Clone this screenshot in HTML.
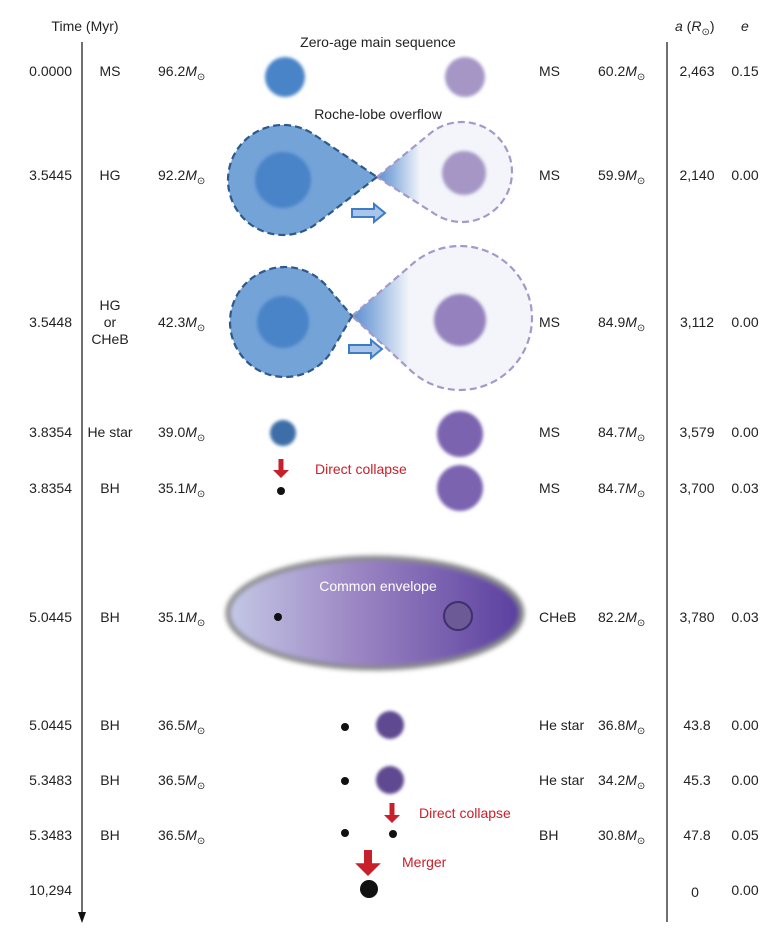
<!DOCTYPE html>
<html><head><meta charset="utf-8"><style>
html,body{margin:0;padding:0;background:#fff;}
svg{display:block;font-family:"Liberation Sans",Arial,sans-serif;}
</style></head><body>
<svg id="c" width="774" height="941" viewBox="0 0 774 941" xmlns="http://www.w3.org/2000/svg">
<defs>
  <filter id="blur2" x="-50%" y="-50%" width="200%" height="200%"><feGaussianBlur stdDeviation="1.6"/></filter>
  <filter id="blur3" x="-20%" y="-50%" width="140%" height="200%"><feGaussianBlur stdDeviation="2.5"/></filter>
  <linearGradient id="streamR" x1="0" x2="1"><stop offset="0" stop-color="#5b8fd0"/><stop offset="0.12" stop-color="#8fb2de"/><stop offset="0.32" stop-color="#f3f5fa"/></linearGradient>
  <linearGradient id="ceGrad" x1="0" x2="1"><stop offset="0" stop-color="#c4c8e6"/><stop offset="0.45" stop-color="#9a84c2"/><stop offset="1" stop-color="#5a3e9e"/></linearGradient>
</defs>
<g id="axes"></g>
<g id="art"></g>
<g id="labels"></g>
</svg>
<script>
const times = ["0.0000","3.5445","3.5448","3.8354","3.8354","5.0445","5.0445","5.3483","5.3483","10,294"];
const rowY = [71,175,322,432,488,617,725,780,835,890];
const leftStage = ["MS","HG","HG|or|CHeB","He star","BH","BH","BH","BH","BH",""];
const leftMass = ["96.2","92.2","42.3","39.0","35.1","35.1","36.5","36.5","36.5",""];
const rightStage = ["MS","MS","MS","MS","MS","CHeB","He star","He star","BH",""];
const rightMass = ["60.2","59.9","84.9","84.7","84.7","82.2","36.8","34.2","30.8",""];
const sep = ["2,463","2,140","3,112","3,579","3,700","3,780","43.8","45.3","47.8","0"];
const ecc = ["0.15","0.00","0.00","0.00","0.03","0.03","0.00","0.00","0.05","0.00"];

const NS="http://www.w3.org/2000/svg";
const gA=document.getElementById('axes'), gArt=document.getElementById('art'), gL=document.getElementById('labels');
function mk(tag,attrs,parent){const e=document.createElementNS(NS,tag);for(const k in attrs)e.setAttribute(k,attrs[k]);parent.appendChild(e);return e;}
function txt(x,y,s,anchor,parent,fill,size){const t=mk('text',{x:x,y:y,'text-anchor':anchor||'start','font-size':size||14,fill:fill||'#222'},parent);t.textContent=s;return t;}
function massText(x,y,v,parent){
  const t=mk('text',{x:x,y:y,'font-size':14,fill:'#222'},parent);
  t.appendChild(document.createTextNode(v));
  const m=document.createElementNS(NS,'tspan');m.setAttribute('font-style','italic');m.textContent='M';t.appendChild(m);
  const s=document.createElementNS(NS,'tspan');s.setAttribute('font-size','10');s.setAttribute('dy','4');s.textContent='\u2299';t.appendChild(s);
  return t;
}

let l=mk('line',{x1:82,y1:42,x2:82,y2:916,stroke:'#111','stroke-width':1.2},gA);

let ah=mk('path',{d:'M78,912 L86,912 L82,923 Z',fill:'#111'},gA);

let r=mk('line',{x1:667,y1:42,x2:667,y2:922,stroke:'#111','stroke-width':1.2},gA);

let h=txt(85,31,'Time (Myr)','middle',gL);

let ha=mk('text',{x:675,y:31,'font-size':14,fill:'#222'},gL);
ha.innerHTML='<tspan font-style="italic">a</tspan> (<tspan font-style="italic">R</tspan><tspan font-size="10" dy="4">\u2299</tspan><tspan dy="-4">)</tspan>';

let he=mk('text',{x:741,y:31,'font-size':14,'font-style':'italic',fill:'#222'},gL);he.textContent='e';


for(let i=0;i<times.length;i++){
  const y=rowY[i]+5;
  let t=txt(72,y,times[i],'end',gL);
  
  if(leftStage[i]){
    const parts=leftStage[i].split('|');
    parts.forEach((p,k)=>{let s=txt(110,y+(k-(parts.length-1)/2)*17,p,'middle',gL);
      });
  }
  if(leftMass[i]){let m=massText(158,y,leftMass[i],gL);
    }
  if(rightStage[i]){let s=txt(539,y,rightStage[i],'start',gL);
    }
  if(rightMass[i]){let m=massText(598,y,rightMass[i],gL);
    }
  let a=txt(i===9?695:697,y+(i===9?2:0),sep[i],'middle',gL);
  
  let e=txt(745,y,ecc[i],'middle',gL);
  
}

function star(cx,cy,rad,fill,name,blur){const c=mk('circle',{cx:cx,cy:cy,r:rad,fill:fill},gArt);if(blur)c.setAttribute('filter','url(#blur2)');
  return c;}
function dot(cx,cy,rad,name){const c=mk('circle',{cx:cx,cy:cy,r:rad,fill:'#111'},gArt);
  return c;}
function lobe(cx,cy,rad,tx,ty,fill,stroke,name){
  const dx=tx-cx,dy=ty-cy,d=Math.hypot(dx,dy),a=Math.acos(rad/d),b=Math.atan2(dy,dx);
  const p1=[cx+rad*Math.cos(b+a),cy+rad*Math.sin(b+a)],p2=[cx+rad*Math.cos(b-a),cy+rad*Math.sin(b-a)];
  const p=mk('path',{d:`M${tx},${ty} L${p1[0]},${p1[1]} A${rad},${rad} 0 1 1 ${p2[0]},${p2[1]} Z`,fill:fill,stroke:stroke,'stroke-width':2.2,'stroke-dasharray':'7,4'},gArt);
  return p;}
function hollowArrow(x,y,name){const p=mk('path',{d:`M${x},${y-4} L${x+22},${y-4} L${x+22},${y-9} L${x+33},${y} L${x+22},${y+9} L${x+22},${y+4} L${x},${y+4} Z`,fill:'#a9c6ea',stroke:'#3f7cc6','stroke-width':2},gArt);
  }
function redArrow(x,y1,y2,w,name){const hw=w*1.6;const p=mk('path',{d:`M${x-w/2},${y1} L${x+w/2},${y1} L${x+w/2},${y2-hw} L${x+hw},${y2-hw} L${x},${y2} L${x-hw},${y2-hw} L${x-w/2},${y2-hw} Z`,fill:'#c8202a'},gArt);
  }

star(285,77,20,'#4a84c8','primary-star-zams',true);
star(465,77,20,'#a596c6','secondary-star-zams',true);
let z=txt(378,47,'Zero-age main sequence','middle',gL);
lobe(462,172,50,377,177,'url(#streamR)','#a499c8','secondary-roche-lobe');
lobe(283,180,55,377,177,'#74a3d8','#2d5a8a','primary-roche-lobe');
star(283,180,28,'#4a84c8','primary-core',true);
star(464,173,22,'#a596c6','secondary-star-rlof',true);
hollowArrow(352,213,'mass-transfer-arrow');
let rl=txt(378,119,'Roche-lobe overflow','middle',gL);
lobe(460,318,72,352,316,'url(#streamR)','#a499c8','secondary-roche-lobe-2');
lobe(285,322,55,352,316,'#74a3d8','#2d5a8a','primary-roche-lobe-2');
star(283,322,26,'#4a84c8','primary-core-2',true);
star(460,320,26,'#9481bd','secondary-star-2',true);
hollowArrow(349,349,'mass-transfer-arrow-2');
star(283,433,13,'#3e6ea8','primary-he-star',true);
star(460,434,23,'#7b64b0','secondary-ms-star',true);
redArrow(281,459,478,5,'collapse-arrow-1');
let dc=txt(315,474,'Direct collapse','start',gL,'#c8202a');
dot(281,491,4,'primary-bh');
star(460,488,23,'#7b64b0','secondary-ms-star-2',true);
let ce=mk('ellipse',{cx:375,cy:613,rx:147,ry:55,fill:'url(#ceGrad)',stroke:'#8a8a8a','stroke-width':5,filter:'url(#blur3)'},gArt);

let cel=txt(378,591,'Common envelope','middle',gL,'#ffffff');
dot(278,617,4,'primary-bh-ce');
let cs=mk('circle',{cx:458,cy:616,r:14,fill:'#6b5a96',stroke:'#3f2f6a','stroke-width':2},gArt);

dot(345,727,4,'primary-bh-6');star(390,725,14,'#5f4a90','secondary-he-star',true);
dot(345,781,4,'primary-bh-7');star(390,780,14,'#5f4a90','secondary-he-star-2',true);
redArrow(392,803,823,5,'collapse-arrow-2');
let dc2=txt(419,818,'Direct collapse','start',gL,'#c8202a');
dot(345,833,4,'primary-bh-8');dot(393,834,4,'secondary-bh');
redArrow(368,850,876,8,'merger-arrow');
let mg=txt(402,867,'Merger','start',gL,'#c8202a');
dot(369,889,9,'merged-bh');
</script>
</body></html>
